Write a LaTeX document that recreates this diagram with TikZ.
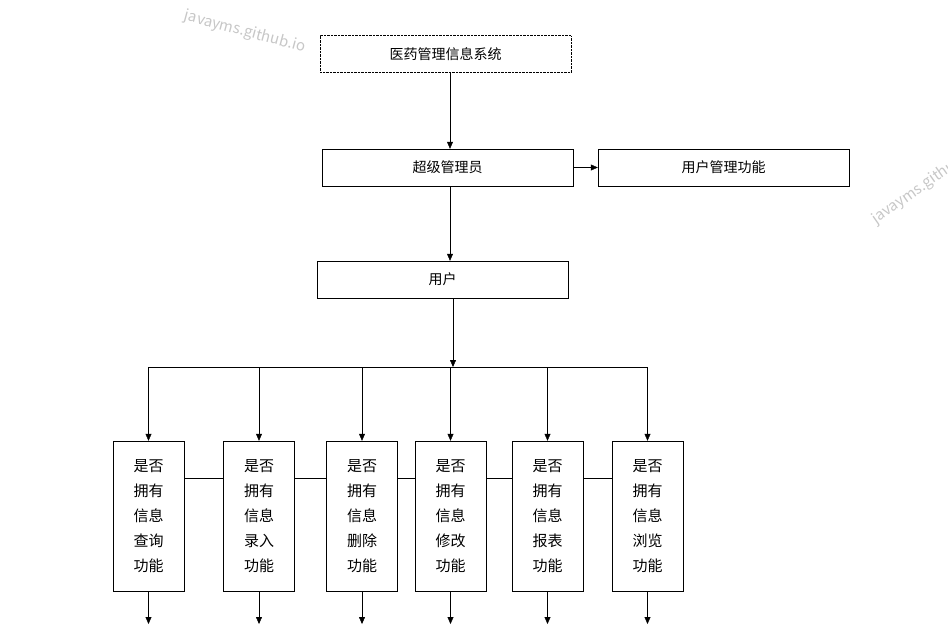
\documentclass[tikz,border=0pt]{standalone}
\usepackage{fontspec}
\setmainfont{Noto Sans CJK SC}
\usetikzlibrary{arrows.meta}
\begin{document}
\begin{tikzpicture}[x=1pt,y=-1pt,
 box/.style={draw,minimum height=37pt,font=\fontsize{14}{16}\selectfont},
 col/.style={draw,minimum width=71pt,minimum height=150pt,align=center,font=\fontsize{15}{25}\selectfont},
 arr/.style={-{Triangle[length=7pt,width=6pt]}},
 wm/.style={text=black!22,font=\fontsize{15}{16}\selectfont\itshape}]
\useasboundingbox (0,0) rectangle (948,624);
\clip (0,0) rectangle (948,624);
\node[wm,rotate=-15] (w1) at (245,32) {javayms.github.io};
\node[wm,rotate=35] (w2) at (925,185) {javayms.github.io};
\node[box,draw,densely dotted,minimum width=251pt] (top) at (445.5,54) {医药管理信息系统};
\node[box,minimum width=251pt] (sa) at (447.5,167.5) {超级管理员};
\node[box,minimum width=251pt] (um) at (723.5,167.5) {用户管理功能};
\node[box,minimum width=251pt] (u) at (442.5,279.5) {用户};
\coordinate (b) at (453,367);
\foreach \i/\x/\t in {1/148.5/查询,2/259/录入,3/362/删除,4/450.5/修改,5/547.5/报表,6/647.5/浏览}{
  \node[col] (c\i) at (\x,516) {是否\\拥有\\信息\\\t\\功能};
  \coordinate (t\i) at (\x,367);
  \coordinate (e\i) at (\x,624);
  \draw[arr] (t\i) -- (c\i.north);
  \draw[arr] (c\i.south) -- (e\i);
}
\draw (t1) -- (t6);
\foreach \a/\b in {1/2,2/3,3/4,4/5,5/6}{\draw ([yshift=38pt]c\a.east) -- ([yshift=38pt]c\b.west);}
\draw[arr] (top.south-|450,0) -- (sa.north-|450,0);
\draw[arr] (sa.south-|450,0) -- (u.north-|450,0);
\draw[arr] (sa) -- (um);
\draw[arr] (u.south-|b) -- (b);
\end{tikzpicture}
\end{document}
